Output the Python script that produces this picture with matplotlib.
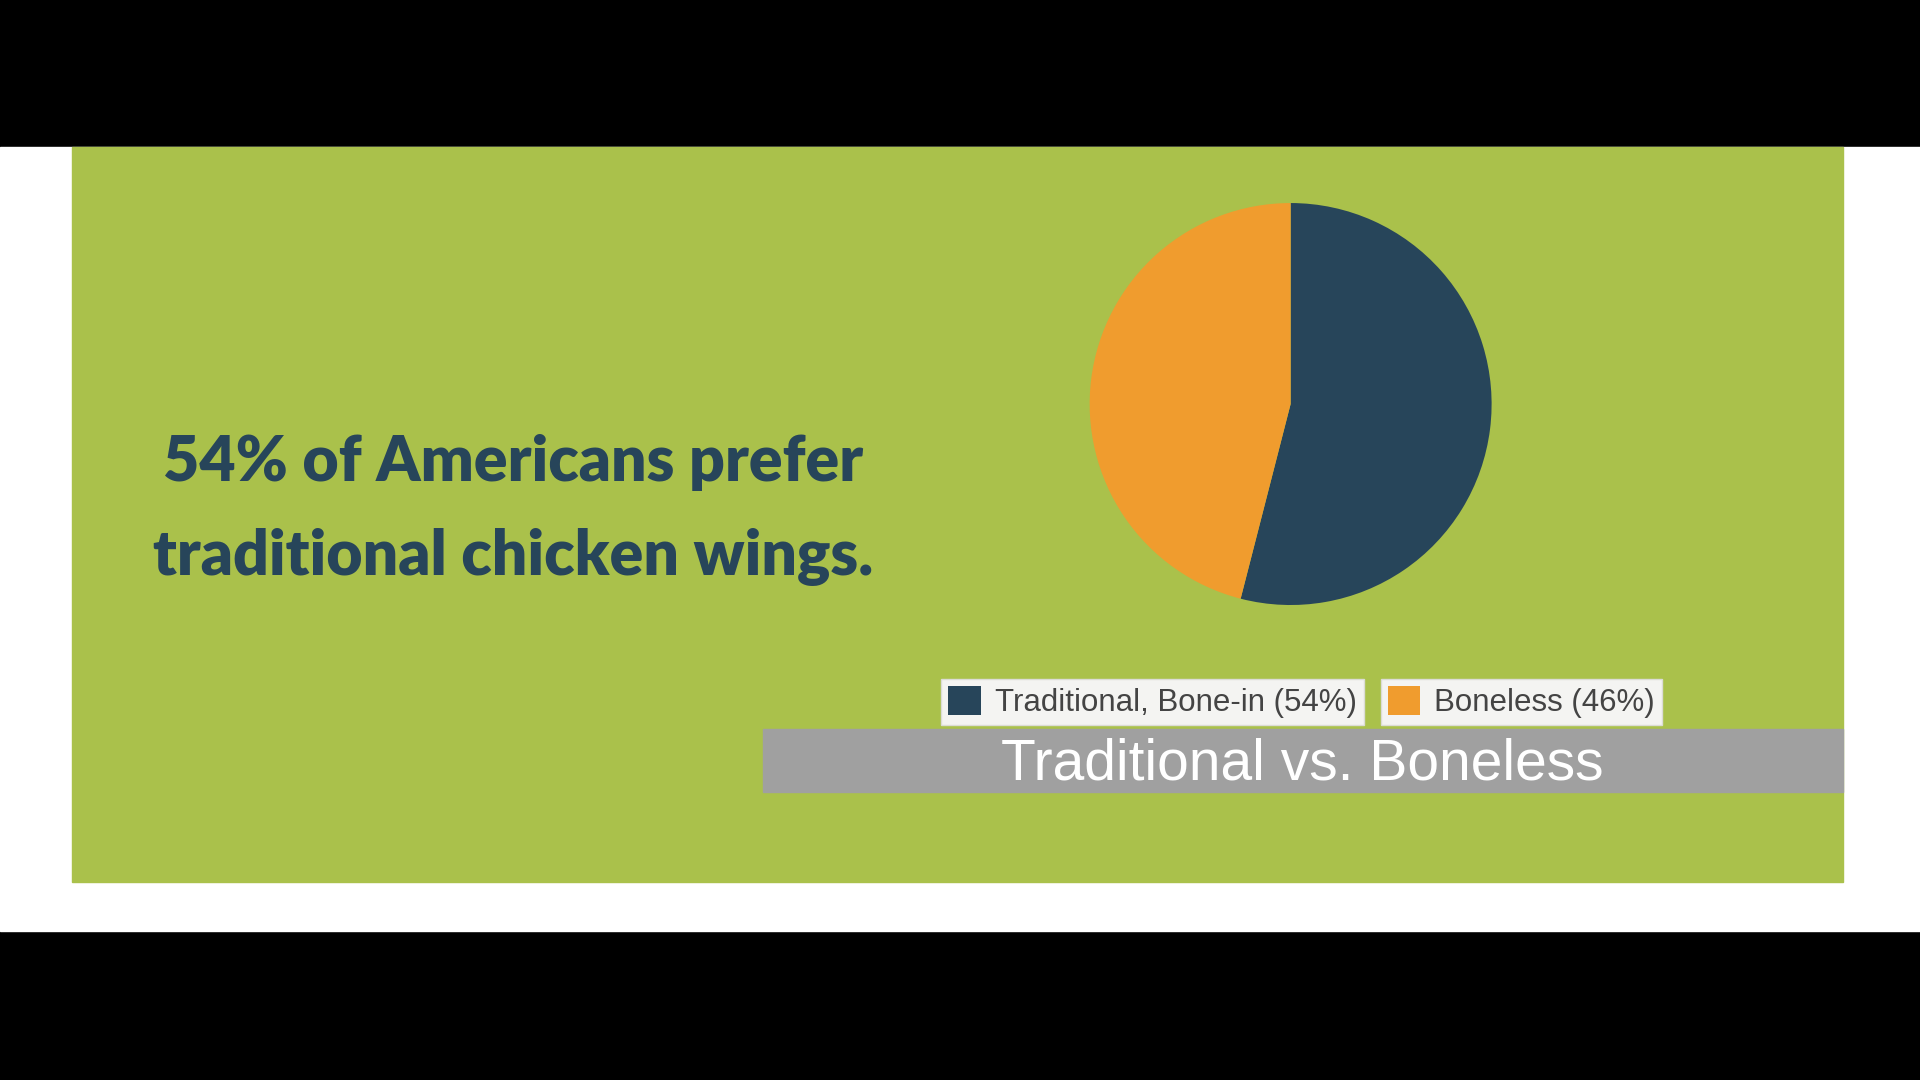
import matplotlib
matplotlib.use("Agg")
import matplotlib.pyplot as plt
from matplotlib.patches import Rectangle

# data
categories = ['Traditional, Bone-in', 'Boneless']
shares = [54, 46]
colors = ['#27455a', '#f09c2e']
chart_title = 'Traditional vs. Boneless'
headline = ['54% of Americans prefer', 'traditional chicken wings.']

fig = plt.figure(figsize=(19.2, 10.8), dpi=100, facecolor='black')

# background layout in pixel coordinates
bg = fig.add_axes([0, 0, 1, 1], zorder=0)
bg.set_xlim(0, 1920)
bg.set_ylim(1080, 0)
bg.axis('off')
bg.add_patch(Rectangle((0, 147), 1920, 784, color='white'))
bg.add_patch(Rectangle((72, 147), 1771, 735, color='#aac14b'))
bg.add_patch(Rectangle((763, 729), 1080, 63, color='#a0a0a0'))
bg.text(1302, 764, chart_title, ha='center', va='center', color='white',
        fontsize=41, family=['Liberation Sans', 'DejaVu Sans'])

for line, base in zip(headline, [481, 575]):
    bg.text(513, base, line, ha='center', va='baseline', color='#27455a',
            fontsize=45, fontweight='heavy',
            family=['Lato', 'DejaVu Sans'])

# pie
ax = fig.add_axes([0.6722 - 0.1047, 0.6259 - 0.1861, 0.2094, 0.3722], zorder=1)
wedges, _ = ax.pie(shares, colors=colors, startangle=90, counterclock=False,
                   wedgeprops=dict(linewidth=0))
ax.set_xlim(-1, 1)
ax.set_ylim(-1, 1)
ax.set_aspect('equal')
ax.axis('off')

# two separate legend boxes
labels = [f'{c} ({v}%)' for c, v in zip(categories, shares)]
anchors = [(0.6003, 0.35), (0.7924, 0.35)]
legs = []
for w, lab, anc in zip(wedges, labels, anchors):
    leg = ax.legend([w], [lab], loc='center', bbox_to_anchor=anc,
                    bbox_transform=fig.transFigure,
                    handlelength=1.05, handleheight=1.05, handletextpad=0.45,
                    borderpad=0.22, borderaxespad=0, fancybox=False,
                    framealpha=1, facecolor='#f4f4f2', edgecolor='#dcdcd6',
                    labelcolor='#444444',
                    prop=dict(family=['Liberation Sans', 'DejaVu Sans'], size=22.5))
    legs.append(leg)
for leg in legs[:-1]:
    ax.add_artist(leg)

fig.savefig('out.png', dpi=100, facecolor='black')
